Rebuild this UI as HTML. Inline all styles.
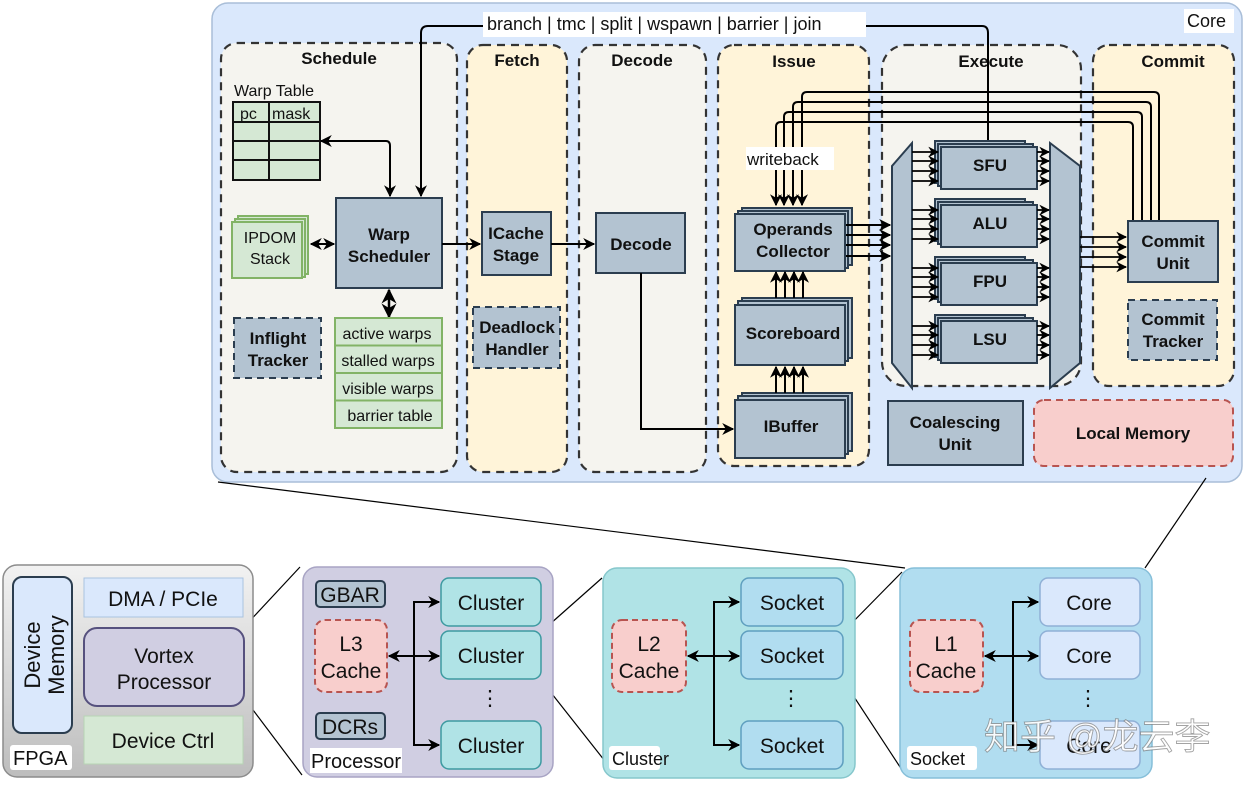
<!DOCTYPE html>
<html><head><meta charset="utf-8"><style>
html,body{margin:0;padding:0;background:#fff}
svg{display:block}
text{font-family:"Liberation Sans",Arial,sans-serif;fill:#111}
.b{font-weight:bold}
</style></head><body>
<svg width="1249" height="785" viewBox="0 0 1249 785" xmlns="http://www.w3.org/2000/svg">
<defs>
<marker id="a" viewBox="0 0 10 10" refX="9" refY="5" markerWidth="6" markerHeight="6" orient="auto-start-reverse"><path d="M0,0 L10,5 L0,10 L3,5 z" fill="#000"/></marker>
<linearGradient id="g" x1="0" y1="0" x2="0" y2="1"><stop offset="0" stop-color="#f2f2f2"/><stop offset="1" stop-color="#bdbdbd"/></linearGradient>
</defs>

<rect x="212" y="3" width="1030" height="479" rx="16" fill="#dae8fc" stroke="#a9bed8" stroke-width="1.5"/>
<rect x="1184" y="9" width="50" height="24" fill="#fff"/>
<text x="1187" y="27" font-size="18">Core</text>

<g stroke="#333" stroke-width="2.2" stroke-dasharray="8,6">
<rect x="221" y="43" width="236" height="429" rx="16" fill="#f5f4ef"/>
<rect x="467" y="45" width="100" height="427" rx="16" fill="#fff4d9"/>
<rect x="579" y="45" width="127" height="427" rx="16" fill="#f5f4ef"/>
<rect x="718" y="45" width="151" height="421" rx="16" fill="#fff4d9"/>
<rect x="882" y="45" width="199" height="341" rx="24" fill="#f5f4ef"/>
<rect x="1093" y="45" width="141" height="341" rx="16" fill="#fff4d9"/>
</g>
<g font-size="17" text-anchor="middle">
<text x="339" y="64" class="b">Schedule</text>
<text x="517" y="66" class="b">Fetch</text>
<text x="642" y="66" class="b">Decode</text>
<text x="794" y="67" class="b">Issue</text>
<text x="991" y="67" class="b">Execute</text>
<text x="1173" y="67" class="b">Commit</text>
</g>

<g fill="none" stroke="#000" stroke-width="2">
<path d="M483,26 H428 Q421,26 421,33 V196" marker-end="url(#a)"/>
<path d="M866,26 H982 Q988,26 988,33 V146"/>
</g>
<rect x="483" y="12" width="383" height="25" fill="#fff"/>
<text x="487" y="30" font-size="18">branch | tmc | split | wspawn | barrier | join</text>

<text x="234" y="96" font-size="16">Warp Table</text>
<g fill="#d5e8d4" stroke="#111" stroke-width="2">
<rect x="233" y="102" width="87" height="78"/>
<line x1="233" y1="122" x2="320" y2="122"/><line x1="233" y1="141" x2="320" y2="141"/><line x1="233" y1="160" x2="320" y2="160"/>
<line x1="269" y1="102" x2="269" y2="180"/>
</g>
<text x="240" y="119" font-size="16">pc</text><text x="272" y="119" font-size="16">mask</text>
<path d="M321,141 H386 Q390,141 390,146 V196" fill="none" stroke="#000" stroke-width="2" marker-start="url(#a)" marker-end="url(#a)"/>

<rect x="336" y="198" width="106" height="90" fill="#b3c3d1" stroke="#2b3d4f" stroke-width="2"/>
<text x="389" y="240" font-size="17" class="b" text-anchor="middle">Warp</text>
<text x="389" y="262" font-size="17" class="b" text-anchor="middle">Scheduler</text>

<g fill="#d5e8d4" stroke="#82b366" stroke-width="2">
<rect x="238" y="216" width="70" height="58"/><rect x="235" y="219" width="70" height="58"/><rect x="232" y="222" width="70" height="56"/>
</g>
<text x="270" y="243" font-size="16" text-anchor="middle">IPDOM</text>
<text x="270" y="264" font-size="16" text-anchor="middle">Stack</text>
<line x1="311" y1="244" x2="334" y2="244" stroke="#000" stroke-width="2" marker-start="url(#a)" marker-end="url(#a)"/>
<line x1="389" y1="290" x2="389" y2="317" stroke="#000" stroke-width="2.5" marker-start="url(#a)" marker-end="url(#a)"/>

<g fill="#d5e8d4" stroke="#82b366" stroke-width="2">
<rect x="335" y="318" width="107" height="27.5"/><rect x="335" y="345.5" width="107" height="27.5"/><rect x="335" y="373" width="107" height="27.5"/><rect x="335" y="400.5" width="107" height="27.5"/>
</g>
<g font-size="16" text-anchor="middle">
<text x="387" y="339">active warps</text><text x="388" y="366">stalled warps</text><text x="388" y="394">visible warps</text><text x="390" y="421">barrier table</text>
</g>

<rect x="234" y="318" width="87" height="60" fill="#b3c3d1" stroke="#2b3d4f" stroke-width="2" stroke-dasharray="7,5"/>
<text x="278" y="344" font-size="17" class="b" text-anchor="middle">Inflight</text>
<text x="278" y="366" font-size="17" class="b" text-anchor="middle">Tracker</text>

<line x1="442" y1="244" x2="480" y2="244" stroke="#000" stroke-width="2" marker-end="url(#a)"/>
<rect x="482" y="212" width="69" height="63" fill="#b3c3d1" stroke="#2b3d4f" stroke-width="2"/>
<text x="516" y="239" font-size="17" class="b" text-anchor="middle">ICache</text>
<text x="516" y="261" font-size="17" class="b" text-anchor="middle">Stage</text>
<rect x="473" y="307" width="87" height="61" fill="#b3c3d1" stroke="#2b3d4f" stroke-width="2" stroke-dasharray="7,5"/>
<text x="517" y="333" font-size="17" class="b" text-anchor="middle">Deadlock</text>
<text x="517" y="355" font-size="17" class="b" text-anchor="middle">Handler</text>

<line x1="551" y1="244" x2="594" y2="244" stroke="#000" stroke-width="2" marker-end="url(#a)"/>
<rect x="596" y="213" width="89" height="60" fill="#b3c3d1" stroke="#2b3d4f" stroke-width="2"/>
<text x="641" y="250" font-size="17" class="b" text-anchor="middle">Decode</text>
<path d="M641,273 V429 H733" fill="none" stroke="#000" stroke-width="2" marker-end="url(#a)"/>

<g fill="#b3c3d1" stroke="#2b3d4f" stroke-width="2">
<rect x="742" y="393" width="110" height="58"/><rect x="738" y="396" width="110" height="58"/><rect x="735" y="400" width="110" height="58"/>
<rect x="742" y="298" width="110" height="60"/><rect x="738" y="301" width="110" height="60"/><rect x="735" y="305" width="110" height="60"/>
<rect x="742" y="208" width="110" height="57"/><rect x="738" y="211" width="110" height="57"/><rect x="735" y="214" width="110" height="57"/>
</g>
<text x="791" y="432" font-size="17" class="b" text-anchor="middle">IBuffer</text>
<text x="793" y="339" font-size="17" class="b" text-anchor="middle">Scoreboard</text>
<text x="793" y="235" font-size="17" class="b" text-anchor="middle">Operands</text>
<text x="793" y="257" font-size="17" class="b" text-anchor="middle">Collector</text>
<g stroke="#000" stroke-width="2" marker-end="url(#a)">
<line x1="776" y1="393" x2="776" y2="367"/><line x1="785" y1="393" x2="785" y2="367"/><line x1="794" y1="393" x2="794" y2="367"/><line x1="803" y1="393" x2="803" y2="367"/>
<line x1="776" y1="298" x2="776" y2="272"/><line x1="785" y1="298" x2="785" y2="272"/><line x1="794" y1="298" x2="794" y2="272"/><line x1="803" y1="298" x2="803" y2="272"/>
</g>

<g fill="none" stroke="#000" stroke-width="2">
<path d="M1159,221 V97 Q1159,92 1154,92 H807 Q802,92 802,97 V205" marker-end="url(#a)"/>
<path d="M1151,221 V107 Q1151,102 1146,102 H798 Q793,102 793,107 V205" marker-end="url(#a)"/>
<path d="M1142,221 V117 Q1142,112 1137,112 H789 Q784,112 784,117 V205" marker-end="url(#a)"/>
<path d="M1133,221 V127 Q1133,122 1128,122 H781 Q776,122 776,127 V205" marker-end="url(#a)"/>
</g>
<rect x="746" y="147" width="88" height="23" fill="#fff"/>
<text x="747" y="165" font-size="17">writeback</text>

<g stroke="#000" stroke-width="2" marker-end="url(#a)">
<line x1="846" y1="225" x2="890" y2="225"/><line x1="846" y1="235" x2="890" y2="235"/><line x1="846" y1="245" x2="890" y2="245"/><line x1="846" y1="256" x2="890" y2="256"/>
</g>
<polygon points="912,143 912,388 892,363 892,166" fill="#b3c3d1" stroke="#2b3d4f" stroke-width="2"/>
<polygon points="1050,143 1050,388 1080,363 1080,166" fill="#b3c3d1" stroke="#2b3d4f" stroke-width="2"/>

<g fill="#b3c3d1" stroke="#2b3d4f" stroke-width="2">
<rect x="935" y="141" width="90" height="42"/><rect x="938" y="144" width="95" height="42"/><rect x="941" y="147" width="96" height="42"/>
<rect x="935" y="199" width="90" height="42"/><rect x="938" y="202" width="95" height="42"/><rect x="941" y="205" width="96" height="42"/>
<rect x="935" y="257" width="90" height="42"/><rect x="938" y="260" width="95" height="42"/><rect x="941" y="263" width="96" height="42"/>
<rect x="935" y="315" width="90" height="42"/><rect x="938" y="318" width="95" height="42"/><rect x="941" y="321" width="96" height="42"/>
</g>
<g font-size="17" text-anchor="middle">
<text x="990" y="171" class="b">SFU</text><text x="990" y="229" class="b">ALU</text><text x="990" y="287" class="b">FPU</text><text x="990" y="345" class="b">LSU</text>
</g>
<g stroke="#000" stroke-width="1.8" marker-end="url(#a)">
<line x1="912" y1="152" x2="938" y2="152"/><line x1="912" y1="161" x2="938" y2="161"/><line x1="912" y1="171" x2="938" y2="171"/><line x1="912" y1="181" x2="938" y2="181"/>
<line x1="912" y1="210" x2="938" y2="210"/><line x1="912" y1="219" x2="938" y2="219"/><line x1="912" y1="229" x2="938" y2="229"/><line x1="912" y1="239" x2="938" y2="239"/>
<line x1="912" y1="268" x2="938" y2="268"/><line x1="912" y1="277" x2="938" y2="277"/><line x1="912" y1="287" x2="938" y2="287"/><line x1="912" y1="297" x2="938" y2="297"/>
<line x1="912" y1="326" x2="938" y2="326"/><line x1="912" y1="335" x2="938" y2="335"/><line x1="912" y1="345" x2="938" y2="345"/><line x1="912" y1="355" x2="938" y2="355"/>
<line x1="1037" y1="152" x2="1049" y2="152"/><line x1="1037" y1="161" x2="1049" y2="161"/><line x1="1037" y1="171" x2="1049" y2="171"/><line x1="1037" y1="181" x2="1049" y2="181"/>
<line x1="1037" y1="210" x2="1049" y2="210"/><line x1="1037" y1="219" x2="1049" y2="219"/><line x1="1037" y1="229" x2="1049" y2="229"/><line x1="1037" y1="239" x2="1049" y2="239"/>
<line x1="1037" y1="268" x2="1049" y2="268"/><line x1="1037" y1="277" x2="1049" y2="277"/><line x1="1037" y1="287" x2="1049" y2="287"/><line x1="1037" y1="297" x2="1049" y2="297"/>
<line x1="1037" y1="326" x2="1049" y2="326"/><line x1="1037" y1="335" x2="1049" y2="335"/><line x1="1037" y1="345" x2="1049" y2="345"/><line x1="1037" y1="355" x2="1049" y2="355"/>
<line x1="1080" y1="237" x2="1126" y2="237"/><line x1="1080" y1="247" x2="1126" y2="247"/><line x1="1080" y1="257" x2="1126" y2="257"/><line x1="1080" y1="267" x2="1126" y2="267"/>
</g>

<rect x="1128" y="221" width="90" height="61" fill="#b3c3d1" stroke="#2b3d4f" stroke-width="2"/>
<text x="1173" y="247" font-size="17" class="b" text-anchor="middle">Commit</text>
<text x="1173" y="269" font-size="17" class="b" text-anchor="middle">Unit</text>
<rect x="1128" y="300" width="89" height="60" fill="#b3c3d1" stroke="#2b3d4f" stroke-width="2" stroke-dasharray="7,5"/>
<text x="1173" y="325" font-size="17" class="b" text-anchor="middle">Commit</text>
<text x="1173" y="347" font-size="17" class="b" text-anchor="middle">Tracker</text>

<rect x="888" y="401" width="135" height="64" fill="#b3c3d1" stroke="#2b3d4f" stroke-width="2"/>
<text x="955" y="428" font-size="17" class="b" text-anchor="middle">Coalescing</text>
<text x="955" y="450" font-size="17" class="b" text-anchor="middle">Unit</text>
<rect x="1034" y="400" width="199" height="66" rx="10" fill="#f8cecc" stroke="#b85450" stroke-width="2" stroke-dasharray="7,5"/>
<text x="1133" y="439" font-size="17" class="b" text-anchor="middle">Local Memory</text>

<g stroke="#000" stroke-width="1.2">
<line x1="218" y1="482" x2="905" y2="568"/><line x1="1206" y1="478" x2="1145" y2="568"/>
<line x1="245" y1="626" x2="300" y2="567"/><line x1="250" y1="706" x2="302" y2="775"/>
<line x1="541" y1="632" x2="602" y2="578"/><line x1="541" y1="680" x2="612" y2="770"/>
<line x1="843" y1="632" x2="902" y2="572"/><line x1="843" y1="680" x2="902" y2="770"/>
</g>

<rect x="3" y="565" width="250" height="212" rx="14" fill="url(#g)" stroke="#8c8c8c" stroke-width="1.5"/>
<rect x="13" y="577" width="59" height="156" rx="9" fill="#dae8fc" stroke="#2b3d4f" stroke-width="2"/>
<text transform="translate(40,655) rotate(-90)" font-size="22" text-anchor="middle">Device</text>
<text transform="translate(64,655) rotate(-90)" font-size="22" text-anchor="middle">Memory</text>
<rect x="84" y="578" width="159" height="39" fill="#dae8fc" stroke="#a9c3e0"/>
<text x="163" y="606" font-size="21" text-anchor="middle">DMA / PCIe</text>
<rect x="84" y="628" width="160" height="78" rx="13" fill="#d0cee2" stroke="#56517e" stroke-width="2"/>
<text x="164" y="663" font-size="21" text-anchor="middle">Vortex</text>
<text x="164" y="689" font-size="21" text-anchor="middle">Processor</text>
<rect x="84" y="716" width="159" height="48" fill="#d5e8d4" stroke="#b7d3b5"/>
<text x="163" y="748" font-size="21" text-anchor="middle">Device Ctrl</text>
<rect x="10" y="745" width="62" height="25" rx="3" fill="#fff"/>
<text x="13" y="765" font-size="20">FPGA</text>

<rect x="303" y="567" width="250" height="210" rx="14" fill="#d0cee2" stroke="#a8a4c4" stroke-width="1.5"/>
<rect x="316" y="581" width="69" height="26" rx="4" fill="#b3c3d1" stroke="#2b3d4f" stroke-width="2"/>
<text x="350" y="602" font-size="21" text-anchor="middle">GBAR</text>
<rect x="316" y="713" width="69" height="26" rx="4" fill="#b3c3d1" stroke="#2b3d4f" stroke-width="2"/>
<text x="350" y="734" font-size="21" text-anchor="middle">DCRs</text>
<rect x="310" y="748" width="92" height="25" fill="#fff"/>
<text x="311" y="768" font-size="20">Processor</text>
<rect x="315" y="620" width="72" height="72" rx="10" fill="#f8cecc" stroke="#b85450" stroke-width="2" stroke-dasharray="6,4"/>
<text x="351" y="651" font-size="21" text-anchor="middle">L3</text><text x="351" y="678" font-size="21" text-anchor="middle">Cache</text>
<g fill="#b0e3e6" stroke="#3d9aa1" stroke-width="1.5">
<rect x="441" y="578" width="100" height="48" rx="8"/><rect x="441" y="631" width="100" height="48" rx="8"/><rect x="441" y="721" width="100" height="48" rx="8"/>
</g>
<g font-size="21" text-anchor="middle"><text x="491" y="610">Cluster</text><text x="491" y="663">Cluster</text><text x="491" y="753">Cluster</text><text x="490" y="705">⋮</text></g>
<g fill="none" stroke="#000" stroke-width="2">
<path d="M439,602 H414 V745 H439" marker-start="url(#a)" marker-end="url(#a)"/>
<line x1="389" y1="656" x2="439" y2="656" marker-start="url(#a)" marker-end="url(#a)"/>
</g>

<rect x="603" y="568" width="252" height="210" rx="14" fill="#b0e3e6" stroke="#86c7cc" stroke-width="1.5"/>
<rect x="612" y="620" width="74" height="72" rx="10" fill="#f8cecc" stroke="#b85450" stroke-width="2" stroke-dasharray="6,4"/>
<text x="649" y="651" font-size="21" text-anchor="middle">L2</text><text x="649" y="678" font-size="21" text-anchor="middle">Cache</text>
<g fill="#b1ddf0" stroke="#5f9fbf" stroke-width="1.5">
<rect x="741" y="578" width="102" height="48" rx="8"/><rect x="741" y="631" width="102" height="48" rx="8"/><rect x="741" y="721" width="102" height="48" rx="8"/>
</g>
<g font-size="21" text-anchor="middle"><text x="792" y="610">Socket</text><text x="792" y="663">Socket</text><text x="792" y="753">Socket</text><text x="791" y="705">⋮</text></g>
<g fill="none" stroke="#000" stroke-width="2">
<path d="M739,602 H714 V745 H739" marker-start="url(#a)" marker-end="url(#a)"/>
<line x1="688" y1="656" x2="739" y2="656" marker-start="url(#a)" marker-end="url(#a)"/>
</g>
<rect x="609" y="746" width="51" height="24" rx="3" fill="#fff"/>
<text x="612" y="765" font-size="18">Cluster</text>

<rect x="900" y="568" width="252" height="210" rx="14" fill="#b1ddf0" stroke="#86bfd9" stroke-width="1.5"/>
<rect x="910" y="620" width="73" height="72" rx="10" fill="#f8cecc" stroke="#b85450" stroke-width="2" stroke-dasharray="6,4"/>
<text x="946" y="651" font-size="21" text-anchor="middle">L1</text><text x="946" y="678" font-size="21" text-anchor="middle">Cache</text>
<g fill="#dae8fc" stroke="#8fb0d6" stroke-width="1.5">
<rect x="1040" y="578" width="100" height="48" rx="8"/><rect x="1040" y="631" width="100" height="48" rx="8"/><rect x="1040" y="721" width="100" height="48" rx="8"/>
</g>
<g font-size="21" text-anchor="middle"><text x="1089" y="610">Core</text><text x="1089" y="663">Core</text><text x="1089" y="753">Core</text><text x="1088" y="705">⋮</text></g>
<g fill="none" stroke="#000" stroke-width="2">
<path d="M1038,602 H1013 V745 H1038" marker-start="url(#a)" marker-end="url(#a)"/>
<line x1="985" y1="656" x2="1038" y2="656" marker-start="url(#a)" marker-end="url(#a)"/>
</g>
<rect x="907" y="746" width="70" height="24" rx="3" fill="#fff"/>
<text x="910" y="765" font-size="18">Socket</text>

<text x="984" y="749" font-size="36" style="font-family:'Liberation Sans','Noto Sans CJK SC',sans-serif;fill:#ffffff;fill-opacity:0.9;stroke:#666;stroke-width:0.9;stroke-opacity:0.6">知乎 @龙云李</text>
</svg>
</body></html>
